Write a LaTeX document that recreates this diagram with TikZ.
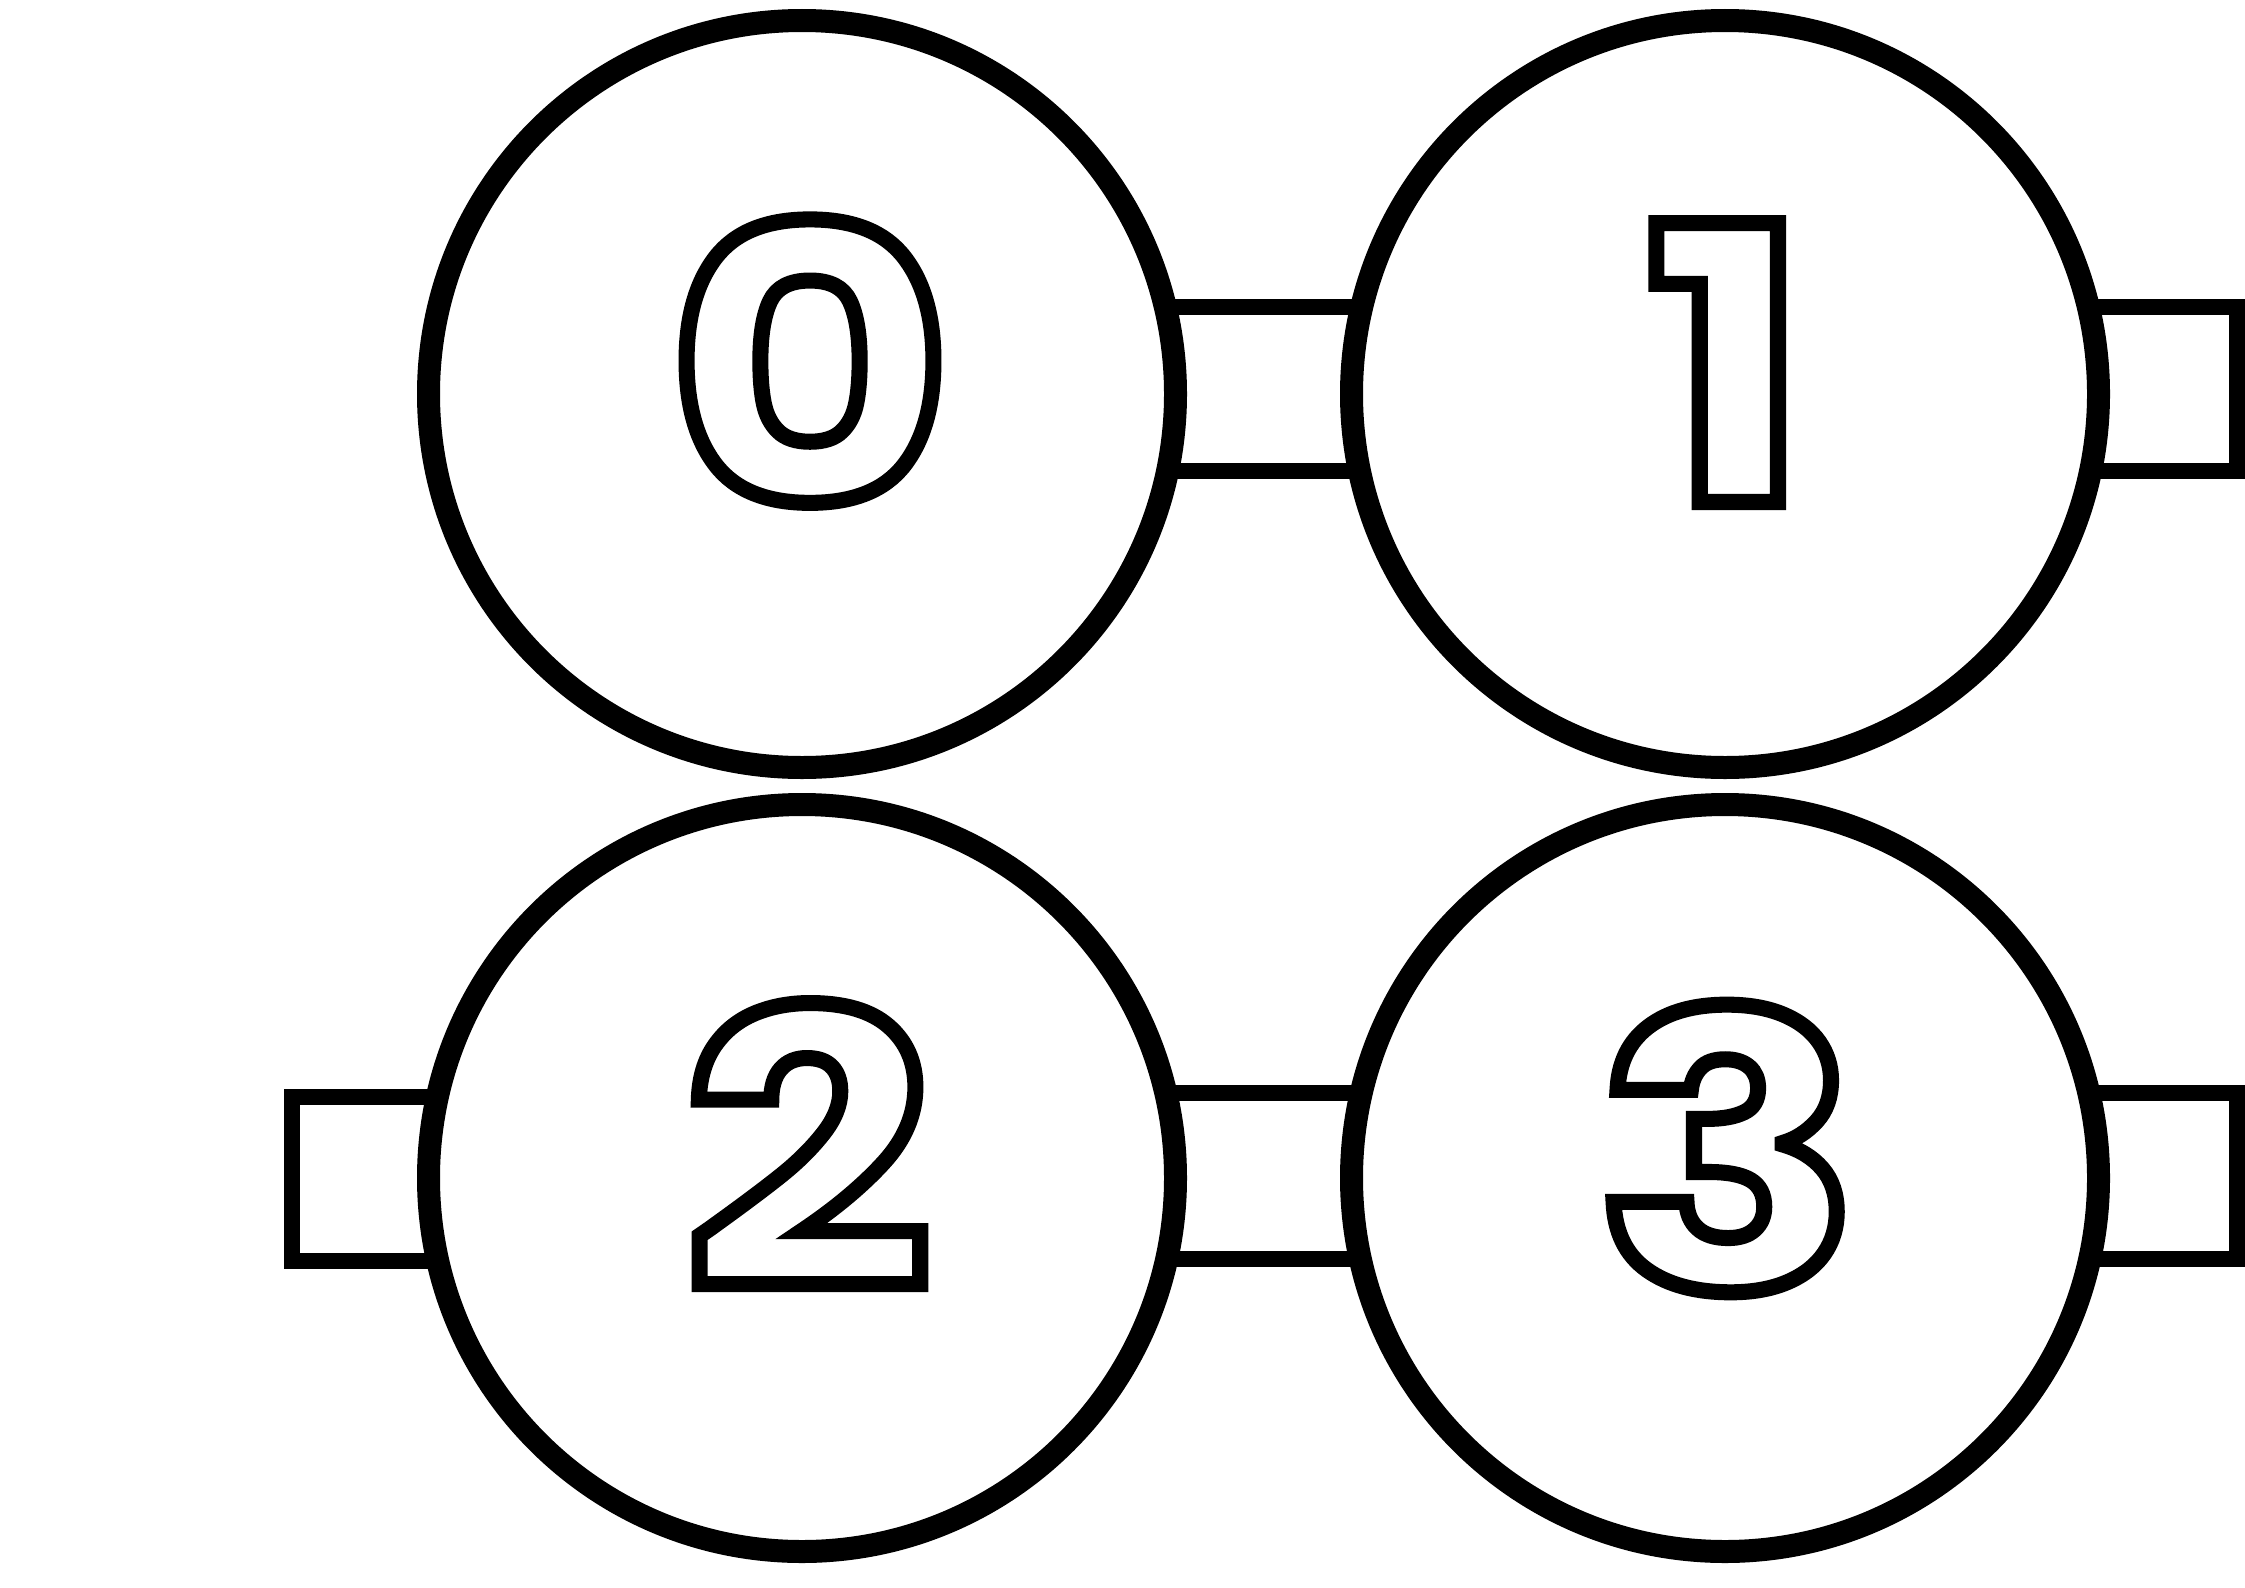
\documentclass[tikz,border=0pt]{standalone}
\usepackage{fontspec}
\usetikzlibrary{calc,backgrounds}
\newfontfamily\digitfont{Poppins}[FakeStretch=1.15]
\newcommand{\outlined}[1]{\special{pdf:literal direct 1 Tr 16 w 0 j}#1\special{pdf:literal direct 0 Tr}}
\tikzset{
  ballnode/.style={circle,draw=black,fill=white,line width=23pt,minimum size=747pt,inner sep=0pt},
  barline/.style={draw=black,line width=16pt,fill=white},
  digitnode/.style={inner sep=0pt,anchor=base,font=\digitfont\bfseries\fontsize{382}{382}\selectfont}
}
\begin{document}
\begin{tikzpicture}[x=1pt,y=-1pt]
\useasboundingbox (0,0) rectangle (2245,1587);
\node[ballnode] (c0) at (802,394) {};
\node[ballnode] (c1) at (1725,394) {};
\node[ballnode] (c2) at (802,1178) {};
\node[ballnode] (c3) at (1725,1178) {};
\coordinate (r1) at (2237,471);
\coordinate (l2) at (292,1097);
\coordinate (r3) at (2237,1259);
\begin{scope}[on background layer]
\fill[white] (0,0) rectangle (2245,1587);
\draw[barline] ($(c0)+(0,-87)$) rectangle ($(c1)+(0,77)$);
\draw[barline] ($(c1)+(0,-87)$) rectangle (r1);
\draw[barline] (l2) rectangle ($(c2)+(0,83)$);
\draw[barline] ($(c2)+(0,-85)$) rectangle ($(c3)+(0,81)$);
\draw[barline] ($(c3)+(0,-85)$) rectangle (r3);
\end{scope}
\node[digitnode] (d0) at (810,504) {\outlined{0}};
\node[digitnode] (d1) at (1727,502) {\outlined{1}};
\node[digitnode] (d2) at (808,1288) {\outlined{2}};
\node[digitnode] (d3) at (1728,1290) {\outlined{3}};
\end{tikzpicture}
\end{document}
